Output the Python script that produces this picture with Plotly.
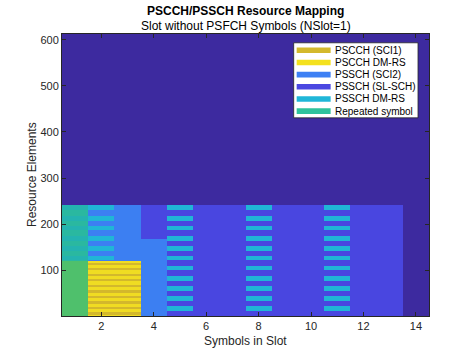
import numpy as np
import plotly.graph_objects as go

# ---------------- data ----------------
n_symbols = 14
n_res = 612
symbols = list(range(1, n_symbols + 1))
res = list(range(1, n_res + 1))

legend_names = ["PSCCH (SCI1)", "PSCCH DM-RS", "PSSCH (SCI2)",
                "PSSCH (SL-SCH)", "PSSCH DM-RS", "Repeated symbol"]
legend_colors = ["#d4b92c", "#f4e11e", "#3d80f4", "#4a47e1", "#1fb6d8", "#2ec29c"]

# grid codes and their colours
code_colors = ["#3d2a9f",  # 0 empty
               "#d3b82c",  # 1 PSCCH SCI1
               "#f0dc22",  # 2 PSCCH DM-RS
               "#3c7ff2",  # 3 PSSCH SCI2
               "#4946e0",  # 4 PSSCH SL-SCH
               "#20b6d6",  # 5 PSSCH DM-RS
               "#2ab8a0",  # 6 repeated symbol (upper)
               "#24b3b0",  # 7 repeated symbol (upper, DM-RS rows)
               "#4fc06c"]  # 8 repeated symbol (lower)

# rectangular regions: (first symbol, last symbol, first RE, last RE, code)
regions = [
    (1, 1, 1, 120, 8),
    (1, 1, 121, 240, 6),
    (2, 3, 1, 120, 2),
    (2, 3, 121, 240, 3),
    (4, 4, 1, 168, 3),
    (4, 4, 169, 240, 4),
    (5, 13, 1, 240, 4),
]

# visible PSSCH DM-RS bands (RE ranges) on DM-RS symbols
pssch_dmrs_symbols = [5, 8, 11]
pssch_dmrs_bands = [(231, 240), (208, 217), (187, 195), (164, 173), (143, 152),
                    (122, 130), (100, 109), (78, 87), (56, 65), (34, 43), (12, 21)]
# symbol 2 upper part carries DM-RS bands as well
sci2_dmrs_bands = [(231, 240), (208, 217), (187, 195), (164, 173), (143, 152), (122, 130)]
# visible darker PSCCH (SCI1) bands between DM-RS in symbols 2-3
pscch_symbols = [2, 3]
sci1_bands = [(112, 116), (100, 104), (88, 92), (76, 80), (64, 68),
              (52, 56), (40, 44), (28, 32), (16, 20), (4, 8)]

# ---------------- grid ----------------
z = np.zeros((n_res, n_symbols), dtype=int)
for s0, s1, r0, r1, c in regions:
    z[r0 - 1:r1, s0 - 1:s1] = c
for s in pssch_dmrs_symbols:
    for r0, r1 in pssch_dmrs_bands:
        z[r0 - 1:r1, s - 1] = 5
for r0, r1 in sci2_dmrs_bands:
    z[r0 - 1:r1, 1] = 5
    z[r0 - 1:r1, 0] = 7
for s in pscch_symbols:
    for r0, r1 in sci1_bands:
        z[r0 - 1:r1, s - 1] = 1

nc = len(code_colors)
colorscale = []
for k, col in enumerate(code_colors):
    colorscale.append([k / nc, col])
    colorscale.append([(k + 1) / nc, col])

fig = go.Figure()
fig.add_trace(go.Heatmap(z=z, x=symbols, y=res, colorscale=colorscale,
                         zmin=-0.5, zmax=nc - 0.5, showscale=False,
                         hoverinfo="skip"))

# ---------------- layout ----------------
W, H = 474, 355
L, R, T, B = 62, 429.5, 33.5, 316
pw, ph = R - L, B - T

def px(x):
    return (x - L) / pw

def py(y):
    return (B - y) / ph

font = "Liberation Sans, Arial, Helvetica, sans-serif"
axcol = "#262626"

axis_common = dict(showline=True, linecolor=axcol, linewidth=1, mirror="ticks",
                   ticks="inside", ticklen=4, tickcolor=axcol, tickwidth=1,
                   showgrid=False, zeroline=False,
                   tickfont=dict(family=font, size=11, color=axcol))

fig.update_layout(
    width=W, height=H,
    margin=dict(l=L, r=W - R, t=T, b=H - B, pad=0),
    paper_bgcolor="white", plot_bgcolor="white",
    showlegend=False,
    xaxis=dict(range=[0.5, 14.5], tickvals=[2, 4, 6, 8, 10, 12, 14], **axis_common),
    yaxis=dict(range=[0.5, 612.5], tickvals=[100, 200, 300, 400, 500, 600], **axis_common),
)

annotations = [
    dict(text="<b>PSCCH/PSSCH Resource Mapping</b>", x=0.5, y=py(10.5),
         font=dict(family=font, size=12, color="black")),
    dict(text="Slot without PSFCH Symbols (NSlot=1)", x=0.5, y=py(25),
         font=dict(family=font, size=12, color="black")),
    dict(text="Symbols in Slot", x=0.5, y=py(341),
         font=dict(family=font, size=12, color=axcol)),
    dict(text="Resource Elements", x=px(32), y=0.5, textangle=-90,
         font=dict(family=font, size=12, color=axcol)),
]
for a in annotations:
    a.update(xref="paper", yref="paper", showarrow=False,
             xanchor="center", yanchor="middle")

# legend (manual, compact like the original)
shapes = [dict(type="rect", xref="paper", yref="paper",
               x0=px(294), x1=px(418.5), y0=py(117.5), y1=py(42.3),
               fillcolor="white", line=dict(color=axcol, width=0.8), layer="above")]
y_first, y_step = 49.8, 12.2
for i, (name, col) in enumerate(zip(legend_names, legend_colors)):
    yc = y_first + i * y_step
    shapes.append(dict(type="rect", xref="paper", yref="paper",
                       x0=px(297), x1=px(331), y0=py(yc + 2.8), y1=py(yc - 2.8),
                       fillcolor=col, line=dict(width=0), layer="above"))
    annotations.append(dict(text=name, xref="paper", yref="paper", x=px(333.5), y=py(yc),
                            xanchor="left", yanchor="middle", showarrow=False,
                            font=dict(family=font, size=10, color="black")))

fig.update_layout(annotations=annotations, shapes=shapes)
fig.write_html("out.html")
